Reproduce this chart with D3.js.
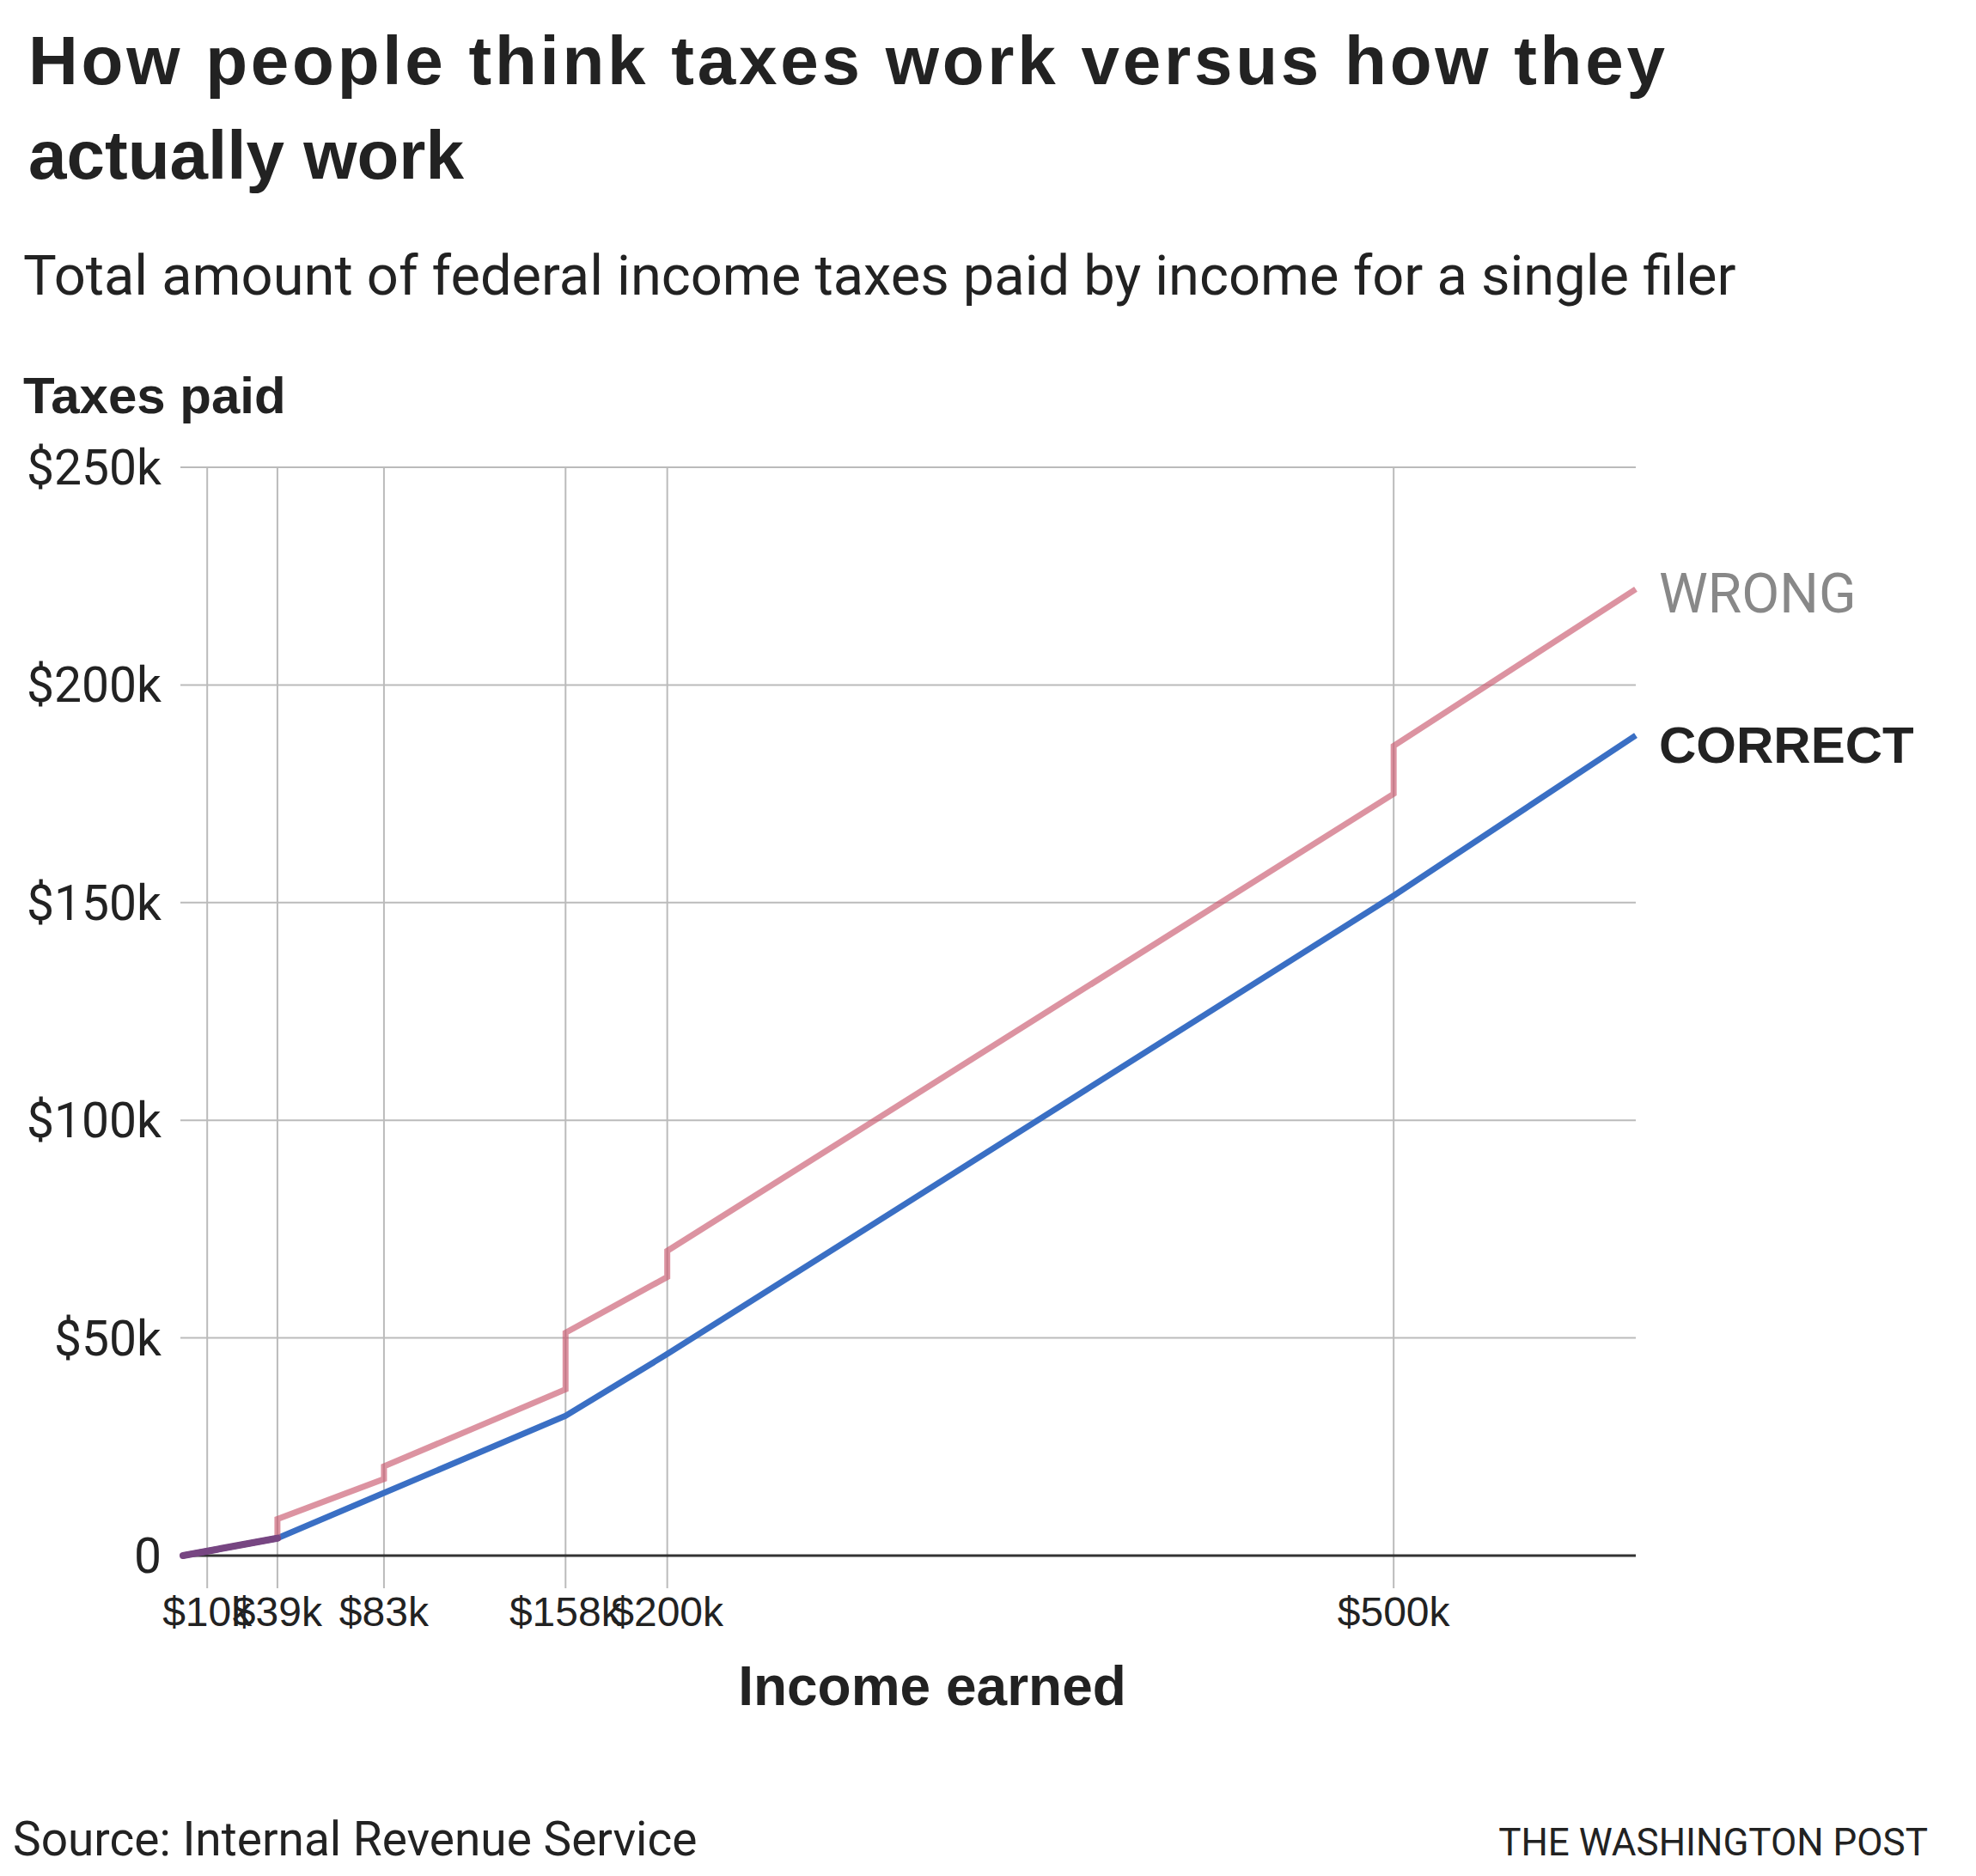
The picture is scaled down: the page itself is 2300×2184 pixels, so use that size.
<!DOCTYPE html>
<html><head><meta charset="utf-8">
<script src="https://cdn.jsdelivr.net/npm/d3@7"></script>
<style>body{margin:0;background:#fff}svg{display:block}</style>
</head><body>
<script>
const xTicks = [10, 39, 83, 158, 200, 500];
const xTickLabels = ["$10k","$39k","$83k","$158k","$200k","$500k"];
const yTicks = [0, 50, 100, 150, 200, 250];
const yTickLabels = ["0","$50k","$100k","$150k","$200k","$250k"];
const correctIncome = [0, 39, 83, 158, 200, 500, 600];
const correctTax = [0, 4.0, 14.4, 32.1, 46.3, 151.6, 188.4];
const wrongIncome = [0, 39, 39, 83, 83, 158, 158, 200, 200, 500, 500, 600];
const wrongTax = [0, 4.0, 8.4, 17.6, 20.5, 38.2, 51.2, 64.0, 70.0, 175.0, 186.0, 222.0];
const overlapIncome = [0, 39];
const overlapTax = [0, 4.0];

const W = 2300, H = 2184;
const svg = d3.select("body").append("svg").attr("width", W).attr("height", H);
const x = d3.scaleLinear().domain([0, 600]).range([213, 1904]);
const y = d3.scaleLinear().domain([0, 250]).range([1811, 544]);
const F = "'Liberation Sans', Arial, sans-serif";
const FN = "'Liberation Sans Narrow', 'Liberation Sans', sans-serif";
const R = "Roboto, sans-serif";
const ink = "#222";

svg.append("text").attr("x", 33).attr("y", 98).attr("font-family", F).attr("font-weight", 700)
  .attr("font-size", 80).attr("fill", ink).attr("textLength", 1905).text("How people think taxes work versus how they");
svg.append("text").attr("x", 33).attr("y", 208).attr("font-family", F).attr("font-weight", 700)
  .attr("font-size", 80).attr("fill", ink).text("actually work");
svg.append("text").attr("x", 27).attr("y", 343).attr("font-family", R)
  .attr("font-size", 65).attr("fill", ink).text("Total amount of federal income taxes paid by income for a single filer");
svg.append("text").attr("x", 27).attr("y", 481).attr("font-family", F).attr("font-weight", 700)
  .attr("font-size", 60).attr("fill", ink).text("Taxes paid");

svg.append("g").selectAll("line").data(xTicks).join("line")
  .attr("x1", d => x(d)).attr("x2", d => x(d)).attr("y1", y(250)).attr("y2", y(0) + 38)
  .attr("stroke", "#bbb").attr("stroke-width", 2);
svg.append("g").selectAll("line").data(yTicks.slice(1)).join("line")
  .attr("x1", 210).attr("x2", x(600)).attr("y1", d => y(d)).attr("y2", d => y(d))
  .attr("stroke", "#bbb").attr("stroke-width", 2);
svg.append("line").attr("x1", 210).attr("x2", x(600)).attr("y1", y(0)).attr("y2", y(0))
  .attr("stroke", "#333").attr("stroke-width", 3);

svg.append("g").selectAll("text").data(yTicks).join("text")
  .attr("x", 188).attr("y", d => y(d) + 20).attr("text-anchor", "end")
  .attr("font-family", R).attr("font-size", 57).attr("fill", ink)
  .text((d, i) => yTickLabels[i]);
svg.append("g").selectAll("text").data(xTicks).join("text")
  .attr("x", d => x(d)).attr("y", 1893).attr("text-anchor", "middle")
  .attr("font-family", FN).attr("font-size", 48).attr("fill", ink)
  .text((d, i) => xTickLabels[i]);

const line = d3.line();
const pts = (xs, ys) => xs.map((v, i) => [x(v), y(ys[i])]);
svg.append("path").attr("d", line(pts(correctIncome, correctTax))).attr("fill", "none")
  .attr("stroke", "#3a6fc4").attr("stroke-width", 7).attr("stroke-linejoin", "round");
svg.append("path").attr("d", line(pts(wrongIncome, wrongTax))).attr("fill", "none")
  .attr("stroke", "#c9596f").attr("stroke-opacity", 0.65).attr("stroke-width", 7).attr("stroke-linejoin", "miter");
svg.append("path").attr("d", line(pts(overlapIncome, overlapTax))).attr("fill", "none")
  .attr("stroke", "#774682").attr("stroke-width", 8).attr("stroke-linecap", "round");

svg.append("text").attr("x", 1931).attr("y", 713).attr("font-family", R)
  .attr("font-size", 64).attr("fill", "#888").text("WRONG");
svg.append("text").attr("x", 1931).attr("y", 888).attr("font-family", F).attr("font-weight", 700)
  .attr("font-size", 60).attr("fill", ink).text("CORRECT");

svg.append("text").attr("x", 1085).attr("y", 1985).attr("text-anchor", "middle").attr("font-family", F)
  .attr("font-weight", 700).attr("font-size", 64).attr("fill", ink).text("Income earned");
svg.append("text").attr("x", 15).attr("y", 2160).attr("font-family", R)
  .attr("font-size", 55).attr("fill", ink).text("Source: Internal Revenue Service");
svg.append("text").attr("x", 2244).attr("y", 2160).attr("text-anchor", "end").attr("font-family", R)
  .attr("font-size", 44).attr("fill", ink).text("THE WASHINGTON POST");
</script>
</body></html>
